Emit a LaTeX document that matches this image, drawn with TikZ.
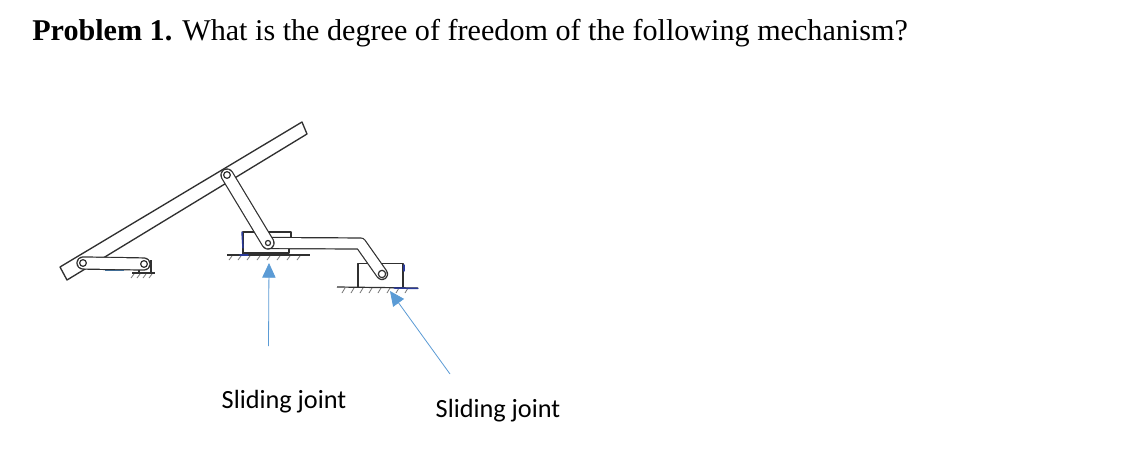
\documentclass[tikz,border=0pt]{standalone}
\usepackage{fontspec}
\setmainfont{Liberation Serif}
\newfontfamily\labelfont{Carlito}
\usetikzlibrary{arrows.meta}
\definecolor{ink}{HTML}{303030}
\definecolor{callout}{HTML}{5B9BD5}
\definecolor{scribble}{HTML}{2A3A9A}
\tikzset{
  x=0.75pt,y=-0.75pt,
  outline/.style={draw=ink,line width=1pt,line join=round},
  linkout/.style={draw=ink,line width=#1,line cap=round,line join=round},
  linkin/.style={draw=white,line width=#1,line cap=round,line join=round},
  pin/.style={circle,draw=ink,fill=white,line width=0.9pt,inner sep=0pt,minimum size=#1},
  hatch/.style={draw=ink!65,line width=0.6pt},
  groundline/.style={draw=ink,line width=0.9pt},
  pointer/.style={draw=callout,line width=0.6pt,-{Triangle[length=11pt,width=10pt,fill=callout]}},
  tag/.style={font=\labelfont\fontsize{19.7}{22}\selectfont,text=black,inner sep=0pt,anchor=base},
  scrib/.style={draw=scribble,line width=1.1pt,line cap=round}
}
\begin{document}
\begin{tikzpicture}
\useasboundingbox[fill=white] (0,0) rectangle (1129,461);
% title
\node[anchor=base west,inner sep=0pt,font=\fontsize{22.6}{26}\selectfont] (title) at (32,40) {\textbf{Problem 1.} What is the degree of freedom of the following mechanism?};

% main bar
\draw[outline,fill=white] (60,267) -- (302,122) -- (307,134) -- (67,280) -- cycle;

% ground and bracket of the left link
\draw[groundline] (132,273) -- (155,273);
\foreach \h in {134,140,146,152} \draw[hatch] (\h,274) -- (\h-3,278);
\draw[outline] (139,273) -- (139,260) (151,273) -- (151,260);

% link 1
\coordinate (l1a) at (83,263);
\coordinate (l1b) at (144,264);
\draw[linkout=10pt] (l1a) -- (l1b);
\draw[linkin=8.2pt] (l1a) -- (l1b);
\node[pin=5pt] (p1) at (l1a) {};
\node[pin=5pt] (p2) at (l1b) {};
\draw[draw=callout!70!black,line width=0.6pt] (105,270) -- (124,270);

% slider 1
\draw[outline] (243,255) -- (243,232) -- (256,232) (268,232) -- (291,232) -- (291,239);
\draw[outline] (243,253) -- (289,253) -- (289,249);
\draw[groundline] (227,255) -- (310,255);
\foreach \h in {232,241,250,260,270,280,290,300} \draw[hatch] (\h,256) -- (\h-3,260);
\draw[scrib] (242,232) -- (243,248);
\draw[scrib] (240,255) -- (248,255);

% slider 2
\draw[outline] (358,287) -- (358,263.5) -- (403,263.5) -- (403,287);
\draw[groundline] (337,287) -- (418,288);
\foreach \h in {345,354,363,372,381,390,399,408} \draw[hatch] (\h,288) -- (\h-3,293);
\draw[scrib] (394,288) -- (418,288.5);
\draw[scrib] (404,265) -- (404,271);

% bent link
\coordinate (bA) at (268,243);
\coordinate (bB) at (360.5,243.5);
\coordinate (bC) at (382,274);
\draw[linkout=9.2pt] (bA) -- (bB) -- (bC);
\draw[linkin=7.4pt] (bA) -- (bB) -- (bC);
\node[pin=5.5pt] (p5) at (bC) {};

% rocker
\coordinate (rA) at (227,175);
\coordinate (rB) at (268,243);
\draw[linkout=10pt] (rA) -- (rB);
\draw[linkin=8.2pt] (rA) -- (rB);
\node[pin=5pt] (p3) at (rA) {};
\node[pin=3.8pt] (p4) at (rB) {};

% labels
\node[tag] (s1) at (284,408) {Sliding joint};
\node[tag] (s2) at (498,417) {Sliding joint};

% arrows
\coordinate (a1s) at (268.5,346);
\coordinate (a1e) at (269,263);
\coordinate (a2s) at (450,374);
\coordinate (a2e) at (390,291);
\draw[pointer] (a1s) -- (a1e);
\draw[pointer] (a2s) -- (a2e);
\end{tikzpicture}
\end{document}
